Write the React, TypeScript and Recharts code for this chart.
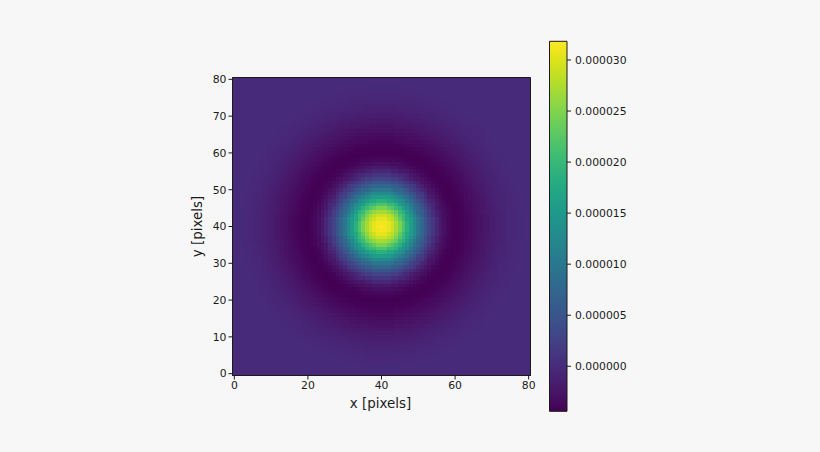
import { ReferenceArea, Scatter, ScatterChart, XAxis, YAxis } from "recharts";

// values in units of 1e-6, read along the radius from the image centre, one entry per half pixel
const radialProfile = [
  31.8, 31.7, 31.4, 31.0, 30.5, 29.8, 29.0, 28.1, 27.0, 25.9,
  24.6, 23.2, 21.7, 20.2, 18.7, 17.2, 15.7, 14.2, 12.8, 11.4,
  10.0, 8.8, 7.6, 6.3, 5.2, 4.0, 3.0, 2.0, 1.2, 0.3,
  -0.5, -1.3, -2.0, -2.5, -3.0, -3.4, -3.7, -3.95, -4.2, -4.32,
  -4.41, -4.39, -4.35, -4.28, -4.2, -4.08, -3.95, -3.78, -3.6, -3.45,
  -3.3, -3.15, -3.0, -2.85, -2.7, -2.5, -2.3, -2.15, -2.0, -1.85,
  -1.7, -1.55, -1.4, -1.3, -1.15, -1.05, -0.95, -0.85, -0.75, -0.7,
  -0.6, -0.5, -0.45, -0.4, -0.35, -0.3, -0.25, -0.2, -0.15, -0.1,
  -0.1, -0.05, -0.05, 0, 0, 0, 0, 0, 0, 0,
  0, 0, 0, 0, 0, 0, 0, 0, 0, 0,
  0, 0, 0, 0, 0, 0, 0, 0, 0, 0,
  0, 0, 0, 0, 0, 0, 0,
];
const gridIndex = Array.from({ length: 81 }, (_, i) => i);
const xTicks = [0, 20, 40, 60, 80];
const yTicks = [0, 10, 20, 30, 40, 50, 60, 70, 80];
const colorbarTicks = [0, 5, 10, 15, 20, 25, 30];
const viridis = [
  "#440154", "#481567", "#482677", "#453781", "#404788", "#39568C", "#33638D",
  "#2D708E", "#287D8E", "#238A8D", "#1F968B", "#20A387", "#29AF7F", "#3CBB75",
  "#55C667", "#73D055", "#95D840", "#B8DE29", "#DCE319", "#FDE725",
];

const vMin = -4.41;
const vMax = 31.83;
const font = "'DejaVu Sans', sans-serif";
const ink = "#1a1a1a";
const cellSize = 298 / 81;
const plotMargin = { top: 77.5, right: 289.5, bottom: 36.5, left: 192.5 };

function colorFor(value: number) {
  const t = Math.min(1, Math.max(0, (value - vMin) / (vMax - vMin))) * (viridis.length - 1);
  const i = Math.min(viridis.length - 2, Math.floor(t));
  const a = viridis[i];
  const b = viridis[i + 1];
  const mix = (at: number) => {
    const p = parseInt(a.slice(at, at + 2), 16);
    const q = parseInt(b.slice(at, at + 2), 16);
    return Math.round(p + (q - p) * (t - i));
  };
  return `rgb(${mix(1)},${mix(3)},${mix(5)})`;
}

const cells = gridIndex.flatMap((x) =>
  gridIndex.map((y) => {
    const r = Math.hypot(x - 40, y - 40);
    const value = radialProfile[Math.min(radialProfile.length - 1, Math.round(r * 2))];
    return { x, y, value };
  }),
);
const frameAnchor = [{ x: 40, y: 40 }];
const colorbarAnchors = colorbarTicks.map((y) => ({ x: 0.5, y }));

function HeatCell({ cx, cy, payload }: any) {
  return (
    <rect
      x={cx - cellSize / 2}
      y={cy - cellSize / 2}
      width={cellSize}
      height={cellSize}
      fill={colorFor(payload.value)}
      shapeRendering="crispEdges"
    />
  );
}

const NoMark = () => null;

const tickStyle = { fontSize: 10.8, fontFamily: font, fill: ink };
const labelStyle = { fontSize: 13.4, fontFamily: font, fill: ink };
const layer = { position: "absolute", left: 0, top: 0 } as const;

export default function App() {
  return (
    <div style={{ position: "absolute", left: 0, top: 0, width: 820, height: 452, background: "#f7f7f7" }}>
      <style>{"body{margin:0;background:#f7f7f7}"}</style>
      <div style={layer}>
        <ScatterChart width={820} height={452} margin={plotMargin}>
          <XAxis type="number" dataKey="x" domain={[-0.5, 80.5]} height={40} tick={false} tickLine={false} axisLine={false} />
          <YAxis type="number" dataKey="y" domain={[-0.5, 80.5]} width={40} tick={false} tickLine={false} axisLine={false} />
          <Scatter data={cells} shape={HeatCell} isAnimationActive={false} />
        </ScatterChart>
      </div>
      <div style={layer}>
        <ScatterChart width={820} height={452} margin={plotMargin}>
          <XAxis
            type="number"
            dataKey="x"
            domain={[-0.5, 80.5]}
            ticks={xTicks}
            height={40}
            tick={tickStyle}
            tickSize={4}
            tickMargin={2}
            stroke={ink}
            label={{ value: "x [pixels]", position: "insideBottom", offset: 8, dx: -1, style: labelStyle }}
          />
          <YAxis
            type="number"
            dataKey="y"
            domain={[-0.5, 80.5]}
            ticks={yTicks}
            width={40}
            tick={tickStyle}
            tickSize={4}
            tickMargin={2}
            stroke={ink}
            label={{ value: "y [pixels]", angle: -90, position: "insideLeft", offset: 5, style: { ...labelStyle, textAnchor: "middle" } }}
          />
          <Scatter data={frameAnchor} shape={NoMark} isAnimationActive={false} />
          <ReferenceArea x1={-0.5} x2={80.5} y1={-0.5} y2={80.5} fill="none" stroke={ink} strokeWidth={1} />
        </ScatterChart>
      </div>
      <div style={layer}>
        <ScatterChart width={820} height={452} margin={{ top: 41.3, right: 193, bottom: 40.7, left: 549.5 }}>
          <defs>
            <linearGradient id="viridisBar" x1="0" y1="1" x2="0" y2="0">
              {viridis.map((c, i) => (
                <stop key={c} offset={i / (viridis.length - 1)} stopColor={c} />
              ))}
            </linearGradient>
          </defs>
          <XAxis type="number" dataKey="x" domain={[0, 1]} hide />
          <YAxis
            type="number"
            dataKey="y"
            orientation="right"
            domain={[vMin, vMax]}
            ticks={colorbarTicks}
            width={60}
            tick={{ ...tickStyle, textAnchor: "start" }}
            tickSize={4}
            tickMargin={4}
            stroke={ink}
            axisLine={false}
            tickFormatter={(v: number) => (v * 1e-6).toFixed(6)}
          />
          <Scatter data={colorbarAnchors} shape={NoMark} isAnimationActive={false} />
          <ReferenceArea x1={0} x2={1} y1={vMin} y2={vMax} fill="url(#viridisBar)" fillOpacity={1} stroke={ink} strokeWidth={1} />
        </ScatterChart>
      </div>
    </div>
  );
}
